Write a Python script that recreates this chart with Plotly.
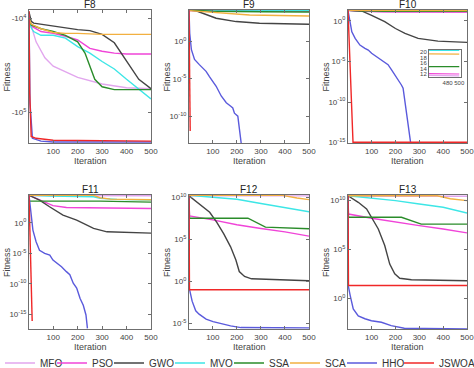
import plotly.graph_objects as go

W, H = 474, 368

ALGOS = ["MFO", "PSO", "GWO", "MVO", "SSA", "SCA", "HHO", "JSWOA"]
COLORS = {
    "MFO": "#E2A6EE", "PSO": "#F044D8", "GWO": "#444444", "MVO": "#3DE6E6",
    "SSA": "#2A8C2A", "SCA": "#F2B040", "HHO": "#5A5ADC", "JSWOA": "#F02828",
}
# left pixel where each legend entry starts
LEGEND_X_PX = [0, 52, 109, 170, 229, 285, 342, 399]

# ---------------- F8 (fitness is negative; values are log10 |fitness|) -------
F8_ITER = {
    "MFO": [1, 10, 30, 66, 100, 200, 300, 400, 500],
    "PSO": [1, 10, 50, 100, 150, 200, 250, 300, 350, 400, 500],
    "GWO": [1, 10, 20, 100, 200, 250, 300, 350, 400, 450, 500],
    "MVO": [1, 10, 20, 50, 100, 150, 200, 250, 300, 350, 400, 450, 500],
    "SSA": [1, 10, 50, 100, 150, 200, 230, 250, 270, 300, 350, 500],
    "SCA": [1, 10, 50, 100, 150, 200, 300, 500],
    "HHO": [1, 5, 15, 50, 100, 500],
    "JSWOA": [1, 4, 10, 30, 100, 500],
}
F8_LOG10 = {
    "MFO": [4.0, 4.08, 4.25, 4.42, 4.51, 4.63, 4.70, 4.74, 4.75],
    "PSO": [4.0, 4.08, 4.14, 4.16, 4.19, 4.23, 4.32, 4.35, 4.37, 4.38, 4.38],
    "GWO": [3.93, 4.03, 4.05, 4.08, 4.12, 4.13, 4.17, 4.26, 4.46, 4.65, 4.75],
    "MVO": [4.0, 4.1, 4.14, 4.18, 4.18, 4.21, 4.30, 4.37, 4.46, 4.54, 4.65, 4.75, 4.86],
    "SSA": [4.0, 4.07, 4.11, 4.14, 4.18, 4.25, 4.37, 4.51, 4.65, 4.73, 4.76, 4.76],
    "SCA": [4.0, 4.06, 4.11, 4.15, 4.16, 4.16, 4.17, 4.17],
    "HHO": [3.95, 4.9, 5.28, 5.31, 5.32, 5.32],
    "JSWOA": [3.92, 4.8, 5.26, 5.28, 5.30, 5.31],
}

# ---------------- F9 (log10 fitness) -----------------------------------------
F9_ITER = {
    "MFO": [1, 500],
    "PSO": [1, 500],
    "GWO": [1, 30, 58, 114, 197, 294, 500],
    "MVO": [1, 500],
    "SSA": [1, 100, 300, 500],
    "SCA": [1, 114, 253, 500],
    "HHO": [1, 4, 11, 24, 44, 65, 72, 86, 107, 114, 135, 156, 176, 183, 190, 204, 211, 218],
    "JSWOA": [1, 6],
}
F9_LOG10 = {
    "MFO": [4.15, 4.1],
    "PSO": [4.15, 4.05],
    "GWO": [4.2, 4.1, 3.78, 3.11, 2.67, 2.44, 2.31],
    "MVO": [4.2, 4.18],
    "SSA": [4.2, 4.05, 3.98, 3.95],
    "SCA": [4.13, 3.87, 3.56, 3.42],
    "HHO": [4.2, 1.1, -1.1, -2.4, -3.1, -3.8, -4.0, -4.7, -5.8, -6.0, -7.3, -8.2, -8.7, -8.9, -9.6, -10.0, -11.8, -13.6],
    "JSWOA": [4.2, -12.0],
}

# ---------------- F10 (log10 fitness) ----------------------------------------
F10_ITER = {
    "MFO": [1, 50, 200, 400, 500],
    "PSO": [1, 50, 150, 300, 450, 500],
    "GWO": [1, 40, 58, 100, 155, 200, 240, 295, 378, 500],
    "MVO": [1, 500],
    "SSA": [1, 50, 150, 300, 500],
    "SCA": [1, 100, 300, 500],
    "HHO": [1, 10, 17, 31, 51, 72, 86, 100, 128, 169, 183, 204, 225, 232, 239, 246, 253, 264],
    "JSWOA": [1, 22, 500],
}
F10_LOG10 = {
    "MFO": [1.314, 1.176, 1.090, 1.061, 1.053],
    "PSO": [1.314, 1.204, 1.130, 1.100, 1.086, 1.079],
    "GWO": [1.31, 1.30, 1.22, 0.69, -0.1, -0.94, -1.55, -2.16, -2.49, -2.65],
    "MVO": [1.314, 1.312],
    "SSA": [1.314, 1.230, 1.176, 1.167, 1.167],
    "SCA": [1.314, 1.301, 1.290, 1.283],
    "HHO": [1.3, -0.33, -1.35, -2.16, -2.98, -3.39, -3.59, -4.0, -4.6, -5.4, -6.0, -6.9, -7.9, -8.3, -9.7, -11.3, -13.0, -15.1],
    "JSWOA": [1.3, -14.95, -14.95],
}

# ---------------- F11 (log10 fitness) ----------------------------------------
F11_ITER = {
    "MFO": [1, 500],
    "PSO": [1, 44, 86, 99, 154, 500],
    "GWO": [1, 44, 85, 140, 196, 265, 320, 430, 500],
    "MVO": [1, 85, 265, 292, 361, 500],
    "SSA": [1, 292, 500],
    "SCA": [1, 265, 292, 334, 500],
    "HHO": [1, 10, 17, 30, 44, 65, 86, 99, 120, 134, 154, 168, 182, 196, 210, 223, 234, 240],
    "JSWOA": [1, 14],
}
F11_LOG10 = {
    "MFO": [4.45, 4.43],
    "PSO": [4.5, 3.7, 3.0, 2.8, 2.5, 2.35],
    "GWO": [4.5, 3.72, 2.62, 1.26, 0.44, -0.93, -1.48, -1.64, -1.7],
    "MVO": [4.5, 4.37, 4.26, 4.0, 3.83, 3.72],
    "SSA": [3.55, 3.55, 3.39],
    "SCA": [4.5, 4.5, 4.1, 3.88, 3.77],
    "HHO": [4.5, 1.26, -1.2, -3.1, -4.5, -5.0, -5.3, -6.1, -6.7, -7.2, -8.0, -8.5, -9.9, -10.7, -12.4, -13.5, -15.1, -17.3],
    "JSWOA": [4.5, -16.1],
}

# ---------------- F12 (log10 fitness) ----------------------------------------
F12_ITER = {
    "MFO": [1, 500],
    "PSO": [1, 3, 100, 200, 300, 400, 500],
    "GWO": [1, 43, 87, 116, 145, 174, 196, 210, 232, 261, 500],
    "MVO": [1, 100, 200, 300, 400, 500],
    "SSA": [1, 3, 246, 280, 319, 500],
    "SCA": [1, 390, 450, 500],
    "HHO": [1, 2, 14, 29, 43, 72, 101, 130, 174, 217, 500],
    "JSWOA": [1, 3, 500],
}
F12_LOG10 = {
    "MFO": [10.2, 10.2],
    "PSO": [10.2, 7.8, 7.33, 6.75, 6.3, 5.9, 5.4],
    "GWO": [10.2, 9.22, 8.24, 7.06, 5.69, 4.12, 2.55, 1.18, 0.59, 0.31, 0.08],
    "MVO": [10.27, 10.08, 9.8, 9.29, 8.82, 8.31],
    "SSA": [10.2, 7.53, 7.53, 7.0, 6.47, 6.27],
    "SCA": [10.25, 10.25, 9.95, 9.75],
    "HHO": [10.2, -0.8, -2.35, -3.5, -3.9, -4.5, -4.8, -5.0, -5.3, -5.5, -5.53],
    "JSWOA": [10.2, -1.0, -1.0],
}

# ---------------- F13 (log10 fitness) ----------------------------------------
F13_ITER = {
    "MFO": [1, 500],
    "PSO": [1, 3, 100, 200, 300, 400, 500],
    "GWO": [1, 44, 79, 100, 128, 155, 176, 197, 218, 267, 500],
    "MVO": [1, 100, 200, 300, 400, 500],
    "SSA": [1, 3, 225, 265, 308, 500],
    "SCA": [1, 375, 430, 500],
    "HHO": [1, 2, 10, 23, 44, 72, 99, 141, 182, 237, 500],
    "JSWOA": [1, 3, 500],
}
F13_LOG10 = {
    "MFO": [10.45, 10.45],
    "PSO": [10.5, 8.63, 8.2, 7.8, 7.44, 7.1, 6.7],
    "GWO": [10.5, 9.83, 9.15, 8.3, 7.1, 5.4, 3.5, 2.5, 2.05, 1.9, 1.8],
    "MVO": [10.5, 10.24, 10.0, 9.66, 9.32, 8.74],
    "SSA": [10.5, 8.3, 8.3, 7.95, 7.6, 7.6],
    "SCA": [10.5, 10.5, 10.2, 10.0],
    "HHO": [10.5, 1.3, 0.3, -1.1, -1.8, -2.1, -2.3, -2.46, -2.8, -3.07, -3.14],
    "JSWOA": [10.5, 1.3, 1.3],
}

TITLES = ["F8", "F9", "F10", "F11", "F12", "F13"]
X_TICKS = [100, 200, 300, 400, 500]
Y_TICK_EXP = [[4, 5], [0, -5, -10], [0, -5, -10, -15],
              [0, -5, -10, -15], [10, 5, 0, -5], [10, 5, 0]]
Y_RANGES = [[5.33, 3.91], [-13.6, 4.22], [-15.05, 1.34],
            [-17.4, 4.55], [-5.67, 10.3], [-3.15, 10.58]]
INSET_X_TICKS = [480, 500]
INSET_Y_TICKS = [12, 14, 16, 18, 20]

ITERS = [F8_ITER, F9_ITER, F10_ITER, F11_ITER, F12_ITER, F13_ITER]
LOGS = [F8_LOG10, F9_LOG10, F10_LOG10, F11_LOG10, F12_LOG10, F13_LOG10]

# pixel boxes (left, right, top, bottom)
COLS = [(29, 151), (189, 309), (348, 467)]
ROWS = [(10, 143), (195, 329)]
INSET_BOX = (429, 461, 50, 77)

FONT = "Liberation Sans, Arial, sans-serif"


def fx(p):
    return p / W


def fy(p):
    return 1 - p / H


fig = go.Figure()
AX_COLOR = "#6f6f6f"
TICK_FONT = dict(family=FONT, size=8, color="#444444")
annotations = []
legend_names = ["legend"] + [f"legend{i}" for i in range(2, 9)]

for k in range(6):
    r, c = divmod(k, 3)
    x0, x1 = COLS[c]
    y0, y1 = ROWS[r]
    n = k + 1
    xa = "x" if n == 1 else f"x{n}"
    ya = "y" if n == 1 else f"y{n}"
    for i, a in enumerate(ALGOS):
        fig.add_trace(go.Scatter(
            x=ITERS[k][a], y=[10 ** v for v in LOGS[k][a]],
            mode="lines", name=a, showlegend=(k == 0), legend=legend_names[i],
            line=dict(color=COLORS[a], width=1.4),
            xaxis=xa, yaxis=ya, hoverinfo="skip"))
    if k == 0:
        ttext = [f"-10<sup>{e}</sup>" for e in Y_TICK_EXP[k]]
    else:
        ttext = [f"10<sup>{e}</sup>" for e in Y_TICK_EXP[k]]
    common = dict(showline=True, mirror="ticks", linecolor=AX_COLOR, linewidth=1,
                  ticks="inside", ticklen=3, tickcolor=AX_COLOR, showgrid=False,
                  zeroline=False, tickfont=TICK_FONT, ticklabeloverflow="allow")
    fig.layout[f"xaxis{n if n > 1 else ''}"] = dict(
        domain=[fx(x0), fx(x1)], anchor=ya, range=[1, 500],
        tickvals=X_TICKS, ticktext=[str(t) for t in X_TICKS], **common)
    fig.layout[f"yaxis{n if n > 1 else ''}"] = dict(
        domain=[fy(y1), fy(y0)], anchor=xa, type="log", range=Y_RANGES[k],
        tickvals=[10.0 ** e for e in Y_TICK_EXP[k]], ticktext=ttext, **common)
    annotations.append(dict(text=TITLES[k], x=fx((x0 + x1) / 2), y=fy(y0 - 6),
                            xref="paper", yref="paper", showarrow=False,
                            xanchor="center", yanchor="middle",
                            font=dict(family=FONT, size=10, color="#222222")))
    annotations.append(dict(text="Iteration", x=fx((x0 + x1) / 2), y=fy(y1 + 18),
                            xref="paper", yref="paper", showarrow=False,
                            xanchor="center", yanchor="middle",
                            font=dict(family=FONT, size=9, color="#444444")))
    annotations.append(dict(text="Fitness", x=fx(x0 - 22), y=fy((y0 + y1) / 2),
                            xref="paper", yref="paper", showarrow=False, textangle=-90,
                            xanchor="center", yanchor="middle",
                            font=dict(family=FONT, size=9, color="#444444")))

# inset for F10
for a in ["MFO", "PSO", "SSA", "SCA", "MVO"]:
    fig.add_trace(go.Scatter(
        x=F10_ITER[a], y=[10 ** v for v in F10_LOG10[a]],
        mode="lines", name=a, showlegend=False,
        line=dict(color=COLORS[a], width=1.2),
        xaxis="x7", yaxis="y7", hoverinfo="skip"))
ix0, ix1, iy0, iy1 = INSET_BOX
small = dict(family=FONT, size=6, color="#444444")
fig.layout["xaxis7"] = dict(domain=[fx(ix0), fx(ix1)], anchor="y7", range=[448, 503],
                            tickvals=INSET_X_TICKS, tickangle=0, showline=True, mirror=True,
                            linecolor=AX_COLOR, ticks="", showgrid=False,
                            zeroline=False, tickfont=small)
fig.layout["yaxis7"] = dict(domain=[fy(iy1), fy(iy0)], anchor="x7", range=[10.9, 20.7],
                            tickvals=INSET_Y_TICKS, tickangle=0, showline=True, mirror=True,
                            linecolor=AX_COLOR, ticks="", showgrid=False,
                            zeroline=False, tickfont=small)

legend_font = dict(family=FONT, size=10, color="#333333")
for i, name in enumerate(legend_names):
    fig.layout[name] = dict(orientation="h", x=fx(LEGEND_X_PX[i]), xanchor="left",
                            y=fy(363), yanchor="middle", font=legend_font,
                            itemwidth=30, bgcolor="rgba(0,0,0,0)", borderwidth=0)

fig.update_layout(
    width=W, height=H, margin=dict(l=0, r=0, t=0, b=0, autoexpand=False),
    paper_bgcolor="white", plot_bgcolor="white",
    annotations=annotations,
)

fig.write_html(
    "out.html",
    config={"displayModeBar": False},
    post_script="document.body.style.margin='0';document.body.style.overflow='hidden';",
)
